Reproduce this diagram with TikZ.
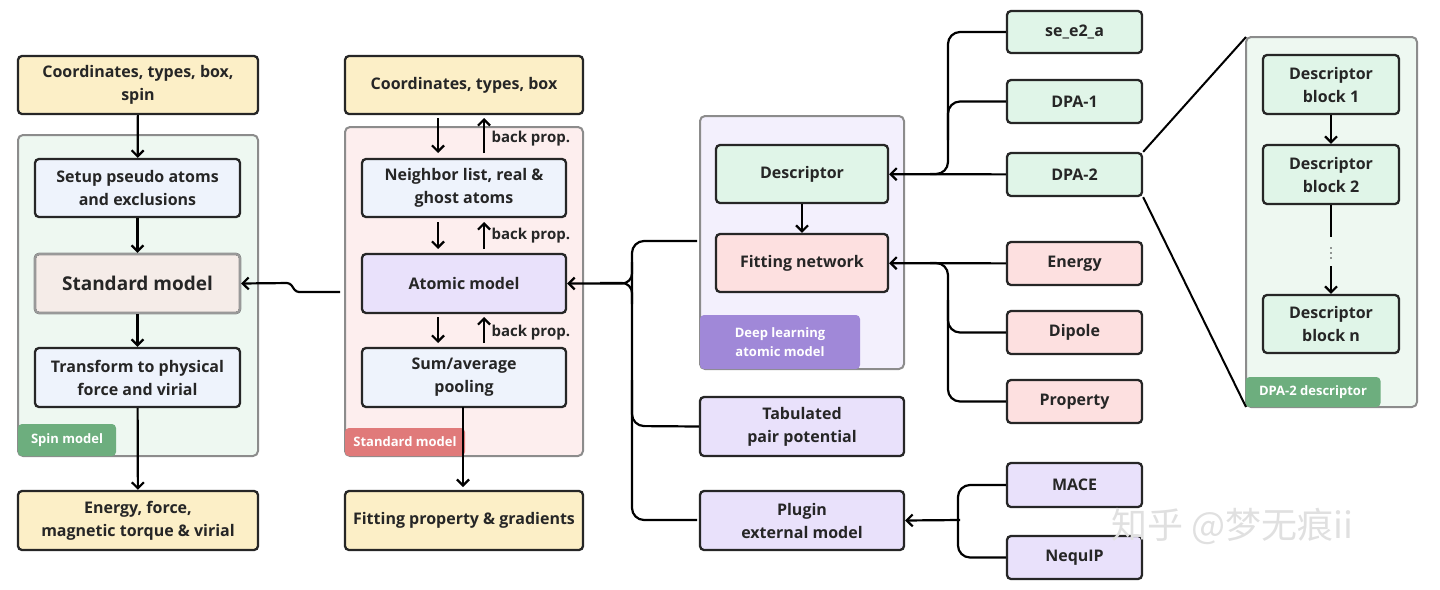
\documentclass[tikz,border=0pt]{standalone}
\usepackage{fontspec}
\setmainfont{Open Sans}
\newfontfamily\cjk{Noto Sans CJK SC}
\usetikzlibrary{arrows.meta}
\definecolor{cyel}{HTML}{FCEFC7}
\definecolor{cblu}{HTML}{EEF3FC}
\definecolor{cbei}{HTML}{F5ECE8}
\definecolor{cgrf}{HTML}{EEF8F1}
\definecolor{cgrl}{HTML}{6DAE7E}
\definecolor{cpkf}{HTML}{FDEEEE}
\definecolor{cpkl}{HTML}{E07A7A}
\definecolor{clav}{HTML}{E9E1FB}
\definecolor{cdlf}{HTML}{F3F0FD}
\definecolor{cdll}{HTML}{A088D8}
\definecolor{cgrn}{HTML}{E0F5E8}
\definecolor{cpnk}{HTML}{FDE0E0}
\begin{document}
\begin{tikzpicture}[x=1pt,y=-1pt,
  box/.style={draw=black!85,line width=2.3pt,rounded corners=4pt,align=center,font=\fontsize{16}{23}\selectfont\bfseries,text=black!85},
  frame/.style={draw=black!45,line width=2pt,rounded corners=5pt},
  tag/.style={rounded corners=4pt,text=white,align=center,font=\fontsize{13}{19}\selectfont\bfseries},
  arr/.style={-{Straight Barb[length=6pt,width=12pt]},line width=2.2pt},
  ln/.style={line width=2.2pt,rounded corners=12pt},
  bp/.style={font=\fontsize{15}{16}\selectfont\bfseries,text=black!85,anchor=west}]
\useasboundingbox (0,0) rectangle (1440,589);
\newcommand\bx[6]{\node[box,fill=#6,minimum width=#3-#2,minimum height=#5-#4] (#1) at ({(#2+#3)/2},{(#4+#5)/2})}
% frames
\draw[frame,fill=cgrf] (18,135) rectangle (258,456);
\node[tag,fill=cgrl,minimum width=98,minimum height=32] (tspin) at (67,440) {Spin model};
\draw[frame,fill=cpkf] (345,127) rectangle (583,456);
\node[tag,fill=cpkl,minimum width=120,minimum height=28] (tstd) at (405,442) {Standard model};
\draw[frame,fill=cdlf] (700,116) rectangle (904,369);
\node[tag,fill=cdll,minimum width=160,minimum height=54] (tdl) at (780,342) {Deep learning\\atomic model};
\draw[frame,fill=cgrf] (1246,37) rectangle (1417,407);
\node[tag,fill=cgrl,minimum width=135,minimum height=30] (tdpa) at (1313,392) {DPA-2 descriptor};
% left
\bx{in1}{18}{258}{56}{114}{cyel} {Coordinates, types, box,\\spin};
\bx{setup}{35}{240}{159}{217}{cblu} {Setup pseudo atoms\\and exclusions};
\bx{stdm}{35}{240}{254}{313}{cbei} {\fontsize{19}{23}\selectfont Standard model};
\draw[draw=black!40,line width=2.3pt,rounded corners=4pt] (35,254) rectangle (240,313);
\bx{trans}{35}{240}{348}{407}{cblu} {Transform to physical\\force and virial};
\bx{out1}{18}{258}{491}{550}{cyel} {Energy, force,\\magnetic torque \& virial};
\draw[arr] (in1) -- (setup);
\draw[arr] (setup) -- (stdm);
\draw[arr] (stdm) -- (trans);
\draw[arr] (trans) -- (out1);
% middle
\bx{in2}{345}{583}{56}{114}{cyel} {Coordinates, types, box};
\bx{nb}{362}{566}{159}{217}{cblu} {Neighbor list, real \&\\ghost atoms};
\bx{atm}{362}{566}{254}{313}{clav} {Atomic model};
\bx{sum}{362}{566}{348}{407}{cblu} {Sum/average\\pooling};
\bx{out2}{345}{583}{491}{550}{cyel} {Fitting property \& gradients};
\draw[arr] (438,118) -- (438,153);
\draw[arr] (484,153) -- (484,118);
\draw[arr] (438,222) -- (438,249);
\draw[arr] (484,249) -- (484,222);
\draw[arr] (438,317) -- (438,343);
\draw[arr] (484,343) -- (484,317);
\node[bp] (bp1) at (488,139) {back prop.};
\node[bp] (bp2) at (488,236) {back prop.};
\node[bp] (bp3) at (488,333) {back prop.};
\draw[arr] (463,407) -- (463,487);
\coordinate (sf) at (340,292);
\draw[arr,rounded corners=3pt] (sf) -- (296,292) -- (290,283) -- (stdm.east);
% DL
\bx{desc}{716}{888}{145}{203}{cgrn} {Descriptor};
\bx{fit}{716}{888}{234}{292}{cpnk} {Fitting network};
\draw[arr] (desc) -- (fit);
\bx{tab}{700}{904}{397}{456}{clav} {Tabulated\\pair potential};
\bx{plug}{700}{904}{491}{550}{clav} {Plugin\\external model};
\draw[ln] (697,241) -- (632,241) -- (632,520) -- (697,520);
\draw[ln] (632,380) -- (632,426) -- (tab.west);
\draw[arr,rounded corners=10pt] (632,262) |- (atm.east);
\draw[line width=2.2pt,rounded corners=10pt] (632,304) |- (600,283);
% right small boxes
\bx{se}{1007}{1142}{11}{53}{cgrn} {se\_e2\_a};
\bx{d1}{1007}{1142}{80}{123}{cgrn} {DPA-1};
\bx{d2}{1007}{1142}{153}{196}{cgrn} {DPA-2};
\bx{en}{1007}{1142}{242}{285}{cpnk} {Energy};
\bx{dp}{1007}{1142}{311}{354}{cpnk} {Dipole};
\bx{pr}{1007}{1142}{380}{423}{cpnk} {Property};
\bx{mace}{1007}{1142}{463}{507}{clav} {MACE};
\bx{neq}{1007}{1142}{536}{579}{clav} {NequIP};
\draw[arr] (d2) -- (desc);
\draw[ln] (se.west) -- (948,32) -- (948,174) -- (930,174);
\draw[ln] (d1.west) -- (948,101.5) -- (948,140);
\draw[arr] (en) -- (fit);
\draw[ln] (930,263) -- (948,263) -- (948,401.5) -- (pr.west);
\draw[ln] (948,300) -- (948,332.5) -- (dp.west);
\draw[ln] (mace.west) -- (958,485) -- (958,557.5) -- (neq.west);
\draw[arr] (960,520) -- (plug.east);
% DPA-2 blocks
\bx{b1}{1263}{1399}{55}{114}{cgrn} {Descriptor\\block 1};
\bx{b2}{1263}{1399}{145}{204}{cgrn} {Descriptor\\block 2};
\bx{bn}{1263}{1399}{295}{353}{cgrn} {Descriptor\\block n};
\draw[arr] (b1) -- (b2);
\draw[line width=2pt] (b2.south) -- (1331,237);
\foreach \yy in {248,253,258} \fill[black!80] (1331,\yy) circle (0.9pt);
\draw[arr] (1331,266) -- (bn.north);
\draw[line width=2pt] (d2.north east) -- (1246,37);
\draw[line width=2pt] (d2.south east) -- (1246,407);
% watermark
\node[font=\cjk\fontsize{36}{36}\selectfont,text=black!12,anchor=west] (wm) at (1108,526) {知乎 @梦无痕ii};
\end{tikzpicture}
\end{document}
